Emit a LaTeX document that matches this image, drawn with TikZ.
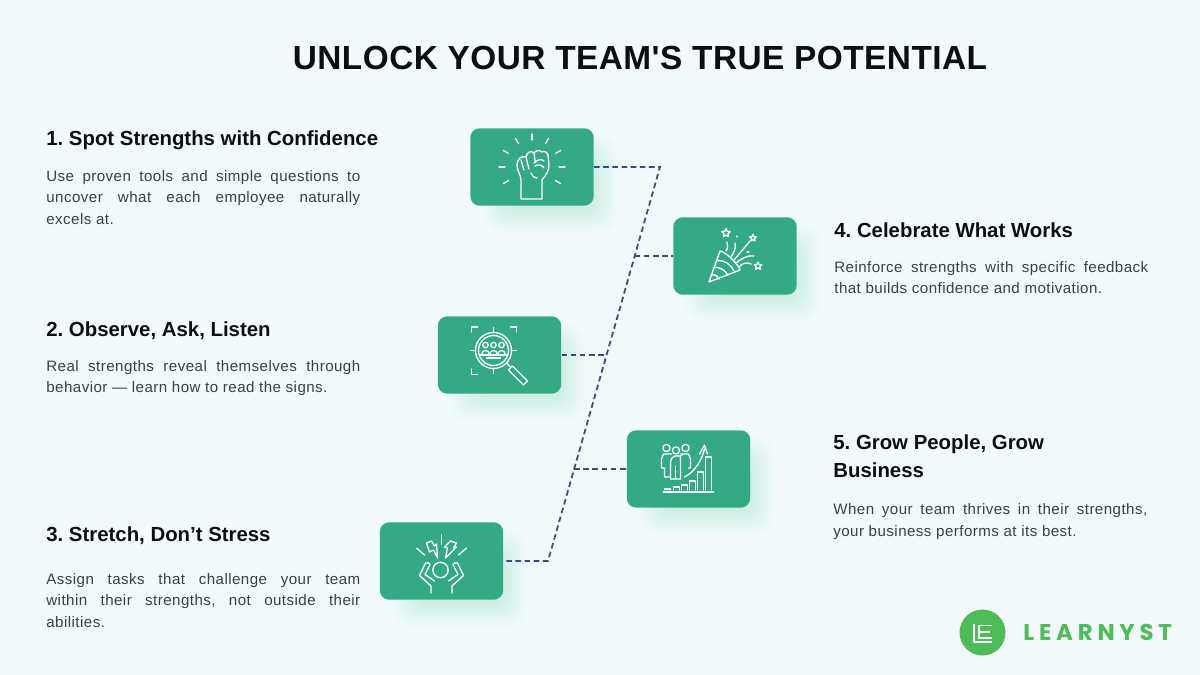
\documentclass[tikz,border=0pt]{standalone}
\usepackage{fontspec}
\setmainfont{Liberation Sans}
\newfontfamily\titlefont[LetterSpace=1.4]{Liberation Sans}
\newfontfamily\bodyfont[LetterSpace=3]{Liberation Sans}
\newfontfamily\logofont[LetterSpace=21]{Poppins}
\usetikzlibrary{calc}
\definecolor{pagebg}{HTML}{F2FAFD}
\definecolor{cardgreen}{HTML}{34A985}
\definecolor{glowgreen}{HTML}{2FA77F}
\definecolor{linkblue}{HTML}{34507A}
\definecolor{logogreen}{HTML}{4FBB5A}
\definecolor{inktext}{HTML}{0B0F12}
\definecolor{softtext}{HTML}{3A3F43}
\tikzset{card/.style={fill=cardgreen,rounded corners=5.5pt,minimum width=2.47cm,minimum height=1.55cm,inner sep=0pt}}
\tikzset{link/.style={linkblue,line width=1pt,dash pattern=on 3.2pt off 2pt}}
\tikzset{icon/.style={white,line width=0.75pt,line cap=round,line join=round}}
\tikzset{head/.style={anchor=west,inner sep=0pt,text=inktext,font=\fontsize{11.6}{16}\selectfont\bfseries\frenchspacing}}
\tikzset{body/.style={anchor=north west,inner sep=0pt,text width=6.28cm,align=justify,text=softtext,font=\fontsize{8.6}{12.2}\selectfont\bodyfont\frenchspacing}}
\newcommand{\cardglow}[2]{%
  \foreach \g in {-18,-16,...,16}
    \fill[glowgreen,opacity=0.012,rounded corners=10pt] ($(#1,#2)+(-34-\g,-16-\g)$) rectangle ($(#1,#2)+(70+\g,50+\g)$);}
\newcommand{\iconstar}[3]{%
  \draw[icon] plot[samples at={0,...,9},variable=\k] ({#1+(mod(\k,2)==0?#3:0.48*#3)*sin(36*\k)},{#2-(mod(\k,2)==0?#3:0.48*#3)*cos(36*\k)}) -- cycle;}
\begin{document}
\begin{tikzpicture}[x=0.02cm,y=-0.02cm]
  \useasboundingbox (0,0) rectangle (1200,675);
  \fill[pagebg] (0,0) rectangle (1200,675);
  \node (title) at (640,58) [inner sep=0pt,text=inktext,font=\fontsize{19}{19}\selectfont\bfseries\titlefont] {UNLOCK YOUR TEAM'S TRUE POTENTIAL};
  % shadows
  \cardglow{532}{167}
  \cardglow{735}{256}
  \cardglow{499.5}{355}
  \cardglow{688.5}{469}
  \cardglow{441.5}{561}
  % links
  \coordinate (top) at (660,167);
  \coordinate (bottom) at (548,561);
  \coordinate (joint4) at ($(top)!0.226!(bottom)$);
  \coordinate (joint2) at ($(top)!0.477!(bottom)$);
  \coordinate (joint5) at ($(top)!0.766!(bottom)$);
  \node (card1) at (532,167) [card] {};
  \node (card4) at (735,256) [card] {};
  \node (card2) at (499.5,355) [card] {};
  \node (card5) at (688.5,469) [card] {};
  \node (card3) at (441.5,561) [card] {};
  \draw[link] (card1.east) -- (top) -- (bottom) -- (card3.east);
  \draw[link] (joint4) -- (joint4 -| card4.west);
  \draw[link] (card2.east) -- (card2.east -| joint2);
  \draw[link] (joint5) -- (joint5 -| card5.west);
  % left column
  \node (head1) at (46,140.5) [head] {1. Spot Strengths with Confidence};
  \node (text1) at (46,170) [body] {Use proven tools and simple questions to\linebreak uncover what each employee naturally\linebreak excels at.};
  \node (head2) at (46,330.5) [head] {2. Observe, Ask, Listen};
  \node (text2) at (46,360) [body] {Real strengths reveal themselves through\linebreak behavior — learn how to read the signs.};
  \node (head3) at (46,535.5) [head] {3. Stretch, Don’t Stress};
  \node (text3) at (46,573) [body] {Assign tasks that challenge your team\linebreak within their strengths, not outside their\linebreak abilities.};
  % right column
  \node (head4) at (834,230) [head] {4. Celebrate What Works};
  \node (text4) at (834,261) [body] {Reinforce strengths with specific feedback\linebreak that builds confidence and motivation.};
  \node (head5) at (833,456) [head,anchor=west,align=left] {5. Grow People, Grow\\Business};
  \node (text5) at (833,503.5) [body] {When your team thrives in their strengths,\linebreak your business performs at its best.};
  % fist
  \begin{scope}[shift={(card1.center)},icon]
    \foreach \a in {-210,-180,...,30}
      \draw (\a:27) -- (\a:33);
    \draw (-11,32) -- (10,32) -- (10,13) .. controls (14,8) and (17,4) .. (17,-2) -- (16,-12)
      .. controls (15,-16) and (11,-16) .. (10,-15) .. controls (8,-17) and (4,-17) .. (2,-14)
      .. controls (-1,-17) and (-5,-15) .. (-6,-10) .. controls (-10,-12) and (-15,-8) .. (-15,-2)
      .. controls (-15,4) and (-11,8) .. (-11,13) -- cycle;
    \draw (-6,-10) -- (-3,2);
    \draw (2,-14) -- (3,-6);
    \draw (-11,-7) -- (-8,3);
    \draw (2,-4) .. controls (6,-8) and (10,-8) .. (12,-6);
    \draw (3,-1) .. controls (7,-3) and (10,-2) .. (12,1);
    \draw (-1,6) .. controls (0,9) and (2,11) .. (5,11);
  \end{scope}
  % party popper
  \begin{scope}[shift={(card4.center)},icon]
    \draw (-26,26) -- (-15,-5) .. controls (-9,-4) and (3,8) .. (5,14) -- cycle;
    \draw (-24,19) .. controls (-21,18) and (-18,19) .. (-16,23);
    \draw (-22,12) .. controls (-17,10) and (-11,13) .. (-7,19);
    \draw (-19,5) .. controls (-13,3) and (-4,8) .. (-1,15);
    \draw (-4,1) .. controls (-1,-3) and (1,-8) .. (0,-13);
    \draw (-1,4) -- (15,-15);
    \draw (-9,-5) .. controls (-7,-8) and (-7,-11) .. (-8,-14);
    \draw (1,7) .. controls (6,3) and (12,-1) .. (19,0);
    \draw (4,11) .. controls (7,7) and (12,6) .. (16,8);
    \draw (2,-20) -- (2,-19);
    \draw (12,-4) -- (14,-4);
    \iconstar{-9}{-23}{4.5}
    \iconstar{18}{-18}{3.5}
    \iconstar{23}{10}{4}
  \end{scope}
  % magnifier
  \begin{scope}[shift={(card2.center)},icon]
    \draw (-6,-4.5) circle (18);
    \draw (-6,-4.5) circle (15);
    \draw (-6,-27.5) -- (-6,-22.5);
    \draw (-29,-4.5) -- (-24,-4.5);
    \draw (12,-4.5) -- (17,-4.5);
    \draw (-6,13.5) -- (-6,18.5);
    \draw (-28,-23) -- (-28,-28) -- (-22,-28);
    \draw (11,-28) -- (17,-28) -- (17,-23);
    \draw (-28,14) -- (-28,19.5) -- (-22,19.5);
    \draw (-20,0) -- (8,0);
    \foreach \px in {-14,-6,2}
      \draw (\px,-10) circle (2.7)
        (\px-4,0) .. controls (\px-4,-6) and (\px+4,-6) .. (\px+4,0);
    \draw (-13,3) -- (1,3);
    \draw (7,8) -- (11,12);
    \draw (13,11) -- (28,26) -- (24,30) -- (9,15) -- cycle;
  \end{scope}
  % growth chart
  \begin{scope}[shift={(card5.center)},icon]
    \draw (-25,23) -- (25,23);
    \foreach \bx/\by in {-24/20,-15/18,-7/16,1/12,9/3,17/-12}
      \draw (\bx,21) -- (\bx,\by) -- (\bx+6,\by) -- (\bx+6,21);
    \foreach \hx/\hy in {-22/-21,-12.5/-18.5,-3/-21}
      \draw (\hx,\hy) circle (3.6);
    \draw (-8,-13) .. controls (-17,-14) and (-18,-10) .. (-18,-5) -- (-18,10) -- (-8,10) -- (-8,-13)
      .. controls (-8,-14) and (-7,-14) .. (-6,-14);
    \draw (-17,-15) -- (-25,-15) -- (-27,-10) -- (-27,-1) -- (-24,-1) -- (-24,8) -- (-18,8);
    \draw (-8,-15) -- (0,-15) -- (2,-10) -- (2,-1) -- (0,-1);
    \draw (-13,-3) -- (-13,10);
    \draw (-4,8) .. controls (6,3) and (13,-8) .. (16,-20);
    \draw (11,-15) -- (16,-24) -- (19,-15);
  \end{scope}
  % stress
  \begin{scope}[shift={(card3.center)},icon]
    \draw (-1,9) circle (7.7);
    \draw (-10.5,32) -- (-10.5,25) -- (-22,14.5) -- (-16,2) .. controls (-14,1) and (-12,2) .. (-11.5,3.5) -- (-16.5,13.5) -- (-7,20);
    \draw (10.5,32) -- (10.5,25) -- (22,14.5) -- (16,2) .. controls (14,1) and (12,2) .. (11.5,3.5) -- (16.5,13.5) -- (7,20);
    \draw (-4,-3) -- (-8,-11) -- (-12,-9) -- (-15,-18) -- (-10,-20) -- (-7,-15) -- (-5,-17) -- cycle;
    \draw (4,-3) -- (6,-13) -- (3,-14) -- (9,-20) -- (15,-18) -- (12,-13) -- (15,-14) -- cycle;
    \draw (0,-26) -- (0,-17);
    \draw (-25,-13) -- (-17,-6);
    \draw (25,-13) -- (17,-6);
  \end{scope}
  % logo
  \node (logo) at (982.5,632.5) [circle,fill=logogreen,minimum size=0.92cm,inner sep=0pt] {};
  \draw[white,line width=0.8pt] (974,624) -- (974,642) -- (992,642);
  \draw[white,line width=1.1pt] (992,625.5) -- (979,625.5) -- (979,638) -- (992,638) (979,632) -- (990,632);
  \node (brand) at (1023,632.5) [anchor=west,inner sep=0pt,text=logogreen,font=\fontsize{13}{13}\selectfont\bfseries\logofont] {LEARNYST};
\end{tikzpicture}
\end{document}
